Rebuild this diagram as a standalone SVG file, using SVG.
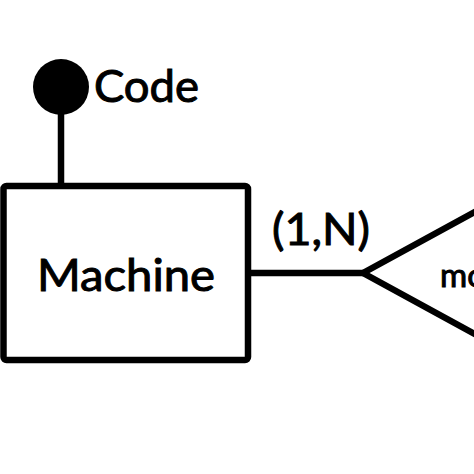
<svg xmlns="http://www.w3.org/2000/svg" width="474" height="474" viewBox="0 0 474 474">
<style>
.ln{stroke:#000;stroke-width:6.5;fill:none;stroke-linejoin:round}
.t{font-family:Lato,"Liberation Sans",sans-serif;fill:#000;stroke:#000;stroke-width:1}
</style>
<rect width="474" height="474" fill="#fff"/>
<g id="connectors">
<line class="ln" x1="61" y1="100" x2="61" y2="186"/>
<line class="ln" x1="248" y1="273" x2="365" y2="273"/>
<text class="t" x="272" y="245" font-size="45" textLength="98" lengthAdjust="spacingAndGlyphs">(1,N)</text>
</g>
<g id="attr-code">
<circle cx="61" cy="87" r="28" fill="#000"/>
<text class="t" x="94" y="102" font-size="45" textLength="105" lengthAdjust="spacingAndGlyphs">Code</text>
</g>
<g id="machine">
<rect class="ln" x="3.5" y="186" width="244.5" height="174" rx="3"/>
<text class="t" x="37" y="291" font-size="45" textLength="178" lengthAdjust="spacingAndGlyphs">Machine</text>
</g>
<g id="relationship">
<path class="ln" d="M482,208 L363,273 L482,338"/>
<text class="t" x="440" y="287" font-size="33">mo</text>
</g>
</svg>
